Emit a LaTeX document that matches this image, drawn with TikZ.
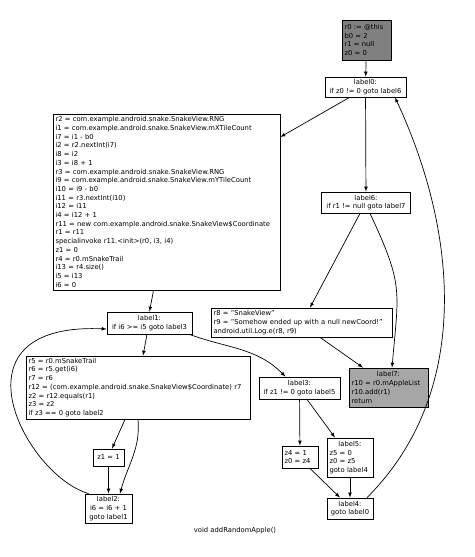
\documentclass[tikz,border=0pt]{standalone}
\usepackage{fontspec}
\setmainfont{DejaVu Sans}
\usepackage{tikz}
\tikzset{>=latex}
\tikzset{
  blk/.style={draw, line width=0.8pt, inner xsep=2.5pt, inner ysep=0pt,
    font=\fontsize{6.8}{8.7}\selectfont},
  lft/.style={blk, align=left, text width=#1},
  ctr/.style={blk, align=center, minimum width=#1},
  edge/.style={->, line width=0.7pt},
}
\newcommand{\headline}[1]{\makebox[\linewidth][c]{#1}}

\begin{document}
\begin{tikzpicture}[x=1pt, y=-1pt]
    \useasboundingbox (0, 0) rectangle (474, 557);
    % blocks
    \node[lft=44pt, minimum height=40pt, fill=black!50] (start) at (366.5, 40)
      {r0 := @this\\ b0 = 2\\ r1 = null\\ z0 = 0};
    \node[ctr=81pt, minimum height=20pt] (label0) at (365.5, 87)
      {label0:\\ if z0 != 0 goto label6};
    \node[lft=222pt, minimum height=176pt] (big) at (166.5, 202)
      {r2 = com.example.android.snake.SnakeView.RNG\\
       i1 = com.example.android.snake.SnakeView.mXTileCount\\
       i7 = i1 - b0\\
       i2 = r2.nextInt(i7)\\
       i8 = i2\\
       i3 = i8 + 1\\
       r3 = com.example.android.snake.SnakeView.RNG\\
       i9 = com.example.android.snake.SnakeView.mYTileCount\\
       i10 = i9 - b0\\
       i11 = r3.nextInt(i10)\\
       i12 = i11\\
       i4 = i12 + 1\\
       r11 = new com.example.android.snake.SnakeView\$Coordinate\\
       r1 = r11\\
       specialinvoke r11.<init>(r0, i3, i4)\\
       z1 = 0\\
       r4 = r0.mSnakeTrail\\
       i13 = r4.size()\\
       i5 = i13\\
       i6 = 0};
    \node[ctr=89pt, minimum height=21pt] (label6) at (366, 202.5)
      {label6:\\ if r1 != null goto label7};
    \node[lft=176pt, minimum height=29pt] (r8) at (301.5, 322.5)
      {r8 = "SnakeView"\\
       r9 = "Somehow ended up with a null newCoord!"\\
       android.util.Log.e(r8, r9)};
    \node[ctr=85pt, minimum height=22pt] (label1) at (149.5, 323)
      {label1:\\ if i6 >= i5 goto label3};
    \node[lft=74pt, minimum height=39pt, fill=black!35] (label7) at (388.5, 387.5)
      {\headline{label7:}\\ r10 = r0.mAppleList\\ r10.add(r1)\\ return};
    \node[lft=219pt, minimum height=63pt] (big2) at (138, 387.5)
      {r5 = r0.mSnakeTrail\\
       r6 = r5.get(i6)\\
       r7 = r6\\
       r12 = (com.example.android.snake.SnakeView\$Coordinate) r7\\
       z2 = r12.equals(r1)\\
       z3 = z2\\
       if z3 == 0 goto label2};
    \node[ctr=81pt, minimum height=22pt] (label3) at (299.5, 388)
      {label3:\\ if z1 != 0 goto label5};
    \node[ctr=31pt, minimum height=17pt] (z1) at (108.5, 457.5) {z1 = 1};
    \node[lft=31pt, minimum height=22pt] (z4) at (300, 457) {z4 = 1\\ z0 = z4};
    \node[lft=41pt, minimum height=39pt] (label5) at (350, 457.5)
      {\headline{label5:}\\ z5 = 0\\ z0 = z5\\ goto label4};
    \node[ctr=46pt, minimum height=21pt] (label4) at (350, 508.5)
      {label4:\\ goto label0};
    \node[ctr=47pt, minimum height=29pt] (label2) at (108.5, 508.5)
      {label2:\\ i6 = i6 + 1\\ goto label1};
    \node[font=\fontsize{6.8}{8.7}\selectfont] (cap) at (235, 531) {void addRandomApple()};
    % edges
    \draw[edge] (start) -- (label0);
    \draw[edge] ([xshift=-16pt]label0.south) -- ([yshift=65pt]big.east);
    \draw[edge] (label0) -- (label6);
    \draw[edge] ([xshift=-6pt]label6.south) -- ([xshift=8.5pt]r8.north);
    \draw[edge] ([xshift=4pt]label6.south) to[out=-65, in=85, looseness=1.3] ([xshift=3.5pt]label7.north);
    \draw[edge] ([xshift=18.5pt]r8.south) -- ([xshift=-25.5pt]label7.north);
    \draw[edge] ([xshift=-13pt]big.south) -- (label1.north);
    \draw[edge] ([xshift=-2.5pt]label1.south) -- ([xshift=5pt]big2.north);
    \draw[edge] ([xshift=-3pt]label1.south east) to[out=-20, in=135] ([xshift=-14pt]label3.north);
    \draw[edge] ([xshift=-13pt]big2.south) -- ([xshift=3.5pt]z1.north);
    \draw[edge] (big2.south) to[out=-85, in=75] ([xshift=11.5pt]label2.north);
    \draw[edge] (z1) -- (label2);
    \draw[edge] ([xshift=4pt]label2.north west) .. controls (25, 475) and (-55, 322) .. ([yshift=-6pt]label1.west);
    \draw[edge] (label3) -- (z4);
    \draw[edge] ([xshift=7.5pt]label3.south) -- ([xshift=-15pt]label5.north);
    \draw[edge] ([xshift=10pt]z4.south) -- ([xshift=-10pt]label4.north);
    \draw[edge] (label5) -- (label4);
    \draw[edge] ([xshift=17pt]label4.north) to[out=45, in=-65, looseness=0.95] ([xshift=29.5pt]label0.south);
\end{tikzpicture}
\end{document}
